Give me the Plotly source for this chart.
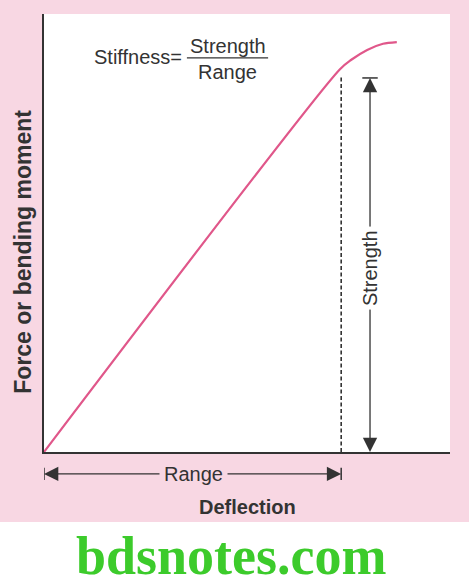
import plotly.graph_objects as go

# ---- data (arbitrary units) ----
deflection = [0, 72.9, 75.6, 79.6, 83.5, 86.9]
force = [0, 87.4, 89.5, 91.8, 93.2, 93.6]
range_end = 73.2          # deflection at end of the linear range
strength_value = 85.4     # force at end of the linear range
dashed_top = 86.1
strength_arrow_x = 80.3

PINK = "#f8d7e3"
CURVE = "#e0578a"
INK = "#333333"
FONT = "Liberation Sans, Arial, sans-serif"

fig = go.Figure()

# main curve
fig.add_trace(go.Scatter(
    x=deflection, y=force, mode="lines",
    line=dict(color=CURVE, width=2.2, shape="spline", smoothing=0.8),
    hoverinfo="skip", showlegend=False))

# dashed drop line at end of range
fig.add_trace(go.Scatter(
    x=[range_end, range_end], y=[0, dashed_top], mode="lines",
    line=dict(color=INK, width=1.6, dash="4px,2.5px"),
    hoverinfo="skip", showlegend=False))

shapes = [
    # white strip at the bottom (below the pink panel)
    dict(type="rect", xref="paper", yref="paper", x0=-0.2, x1=1.2,
         y0=-0.16, y1=-0.35, fillcolor="white", line=dict(width=0), layer="below"),
    # cap on the strength arrow
    dict(type="line", xref="x", yref="y", x0=strength_arrow_x - 1.9, x1=strength_arrow_x + 1.9,
         y0=strength_value, y1=strength_value, line=dict(color=INK, width=1.5)),
    # end bars of the range arrow
    dict(type="line", xref="x", yref="paper", x0=0, x1=0, y0=-0.036, y1=-0.064,
         line=dict(color=INK, width=1.5)),
    dict(type="line", xref="x", yref="paper", x0=range_end, x1=range_end, y0=-0.036, y1=-0.064,
         line=dict(color=INK, width=1.5)),
    # fraction bar
    dict(type="line", xref="x", yref="y", x0=35.2, x1=55.2, y0=90.0, y1=90.0,
         line=dict(color=INK, width=1.3)),
]

ann = []
arrow_kw = dict(text="", showarrow=True, arrowhead=2, arrowsize=2.2,
                arrowwidth=1.3, arrowcolor=INK, standoff=0, startstandoff=0)
# strength arrow (two halves)
ann.append(dict(x=strength_arrow_x, y=strength_value, xref="x", yref="y",
                ax=strength_arrow_x, ay=strength_value / 2, axref="x", ayref="y", **arrow_kw))
ann.append(dict(x=strength_arrow_x, y=0, xref="x", yref="y",
                ax=strength_arrow_x, ay=strength_value / 2, axref="x", ayref="y", **arrow_kw))
ann.append(dict(x=strength_arrow_x, y=42.0, xref="x", yref="y", text="Strength",
                textangle=-90, showarrow=False, bgcolor="white",
                xanchor="center", yanchor="middle",
                font=dict(family=FONT, size=20, color=INK), borderpad=3))
# range arrow (two halves)
ann.append(dict(x=0, y=-0.05, xref="x", yref="paper",
                ax=range_end / 2, ay=0, axref="x", ayref="pixel", **arrow_kw))
ann.append(dict(x=range_end, y=-0.05, xref="x", yref="paper",
                ax=range_end / 2, ay=0, axref="x", ayref="pixel", **arrow_kw))
ann.append(dict(x=36.7, y=-0.05, xref="x", yref="paper", text="Range",
                xanchor="center", yanchor="middle",
                showarrow=False, bgcolor=PINK, borderpad=4,
                font=dict(family=FONT, size=20, color=INK)))
# stiffness equation
ann.append(dict(x=34.6, y=90.2, xref="x", yref="y", text="Stiffness=", xanchor="right",
                yanchor="middle", showarrow=False, font=dict(family=FONT, size=20, color=INK)))
ann.append(dict(x=45.2, y=92.7, xref="x", yref="y", text="Strength",
                xanchor="center", yanchor="middle",
                showarrow=False, font=dict(family=FONT, size=20, color=INK)))
ann.append(dict(x=45.2, y=86.8, xref="x", yref="y", text="Range",
                xanchor="center", yanchor="middle",
                showarrow=False, font=dict(family=FONT, size=20, color=INK)))
# axis titles
ann.append(dict(x=-0.052, y=0.457, xref="paper", yref="paper", text="<b>Force or bending moment</b>",
                xanchor="center", yanchor="middle",
                textangle=-90, showarrow=False, font=dict(family=FONT, size=23, color=INK)))
ann.append(dict(x=0.5, y=-0.1256, xref="paper", yref="paper", text="<b>Deflection</b>",
                xanchor="center", yanchor="middle",
                showarrow=False, font=dict(family=FONT, size=20, color=INK)))
# watermark text
ann.append(dict(x=0.463, y=-0.237, xref="paper", yref="paper", text="<b>bdsnotes.com</b>",
                xanchor="center", yanchor="middle",
                showarrow=False, font=dict(family="Liberation Serif, Times New Roman, serif",
                                           size=54, color="#3ccb2b")))

fig.update_layout(
    width=469, height=579,
    margin=dict(l=44, r=19, t=14, b=127),
    paper_bgcolor=PINK, plot_bgcolor="white",
    shapes=shapes, annotations=ann, showlegend=False,
    xaxis=dict(range=[0, 100], showgrid=False, zeroline=False, showticklabels=False,
               ticks="", showline=True, linecolor=INK, linewidth=1.5, fixedrange=True),
    yaxis=dict(range=[0, 100], showgrid=False, zeroline=False, showticklabels=False,
               ticks="", showline=True, linecolor=INK, linewidth=1.5, fixedrange=True),
)

fig.write_html("out.html", config={"displayModeBar": False},
               post_script="document.body.style.margin='0';document.body.style.overflow='hidden';")
